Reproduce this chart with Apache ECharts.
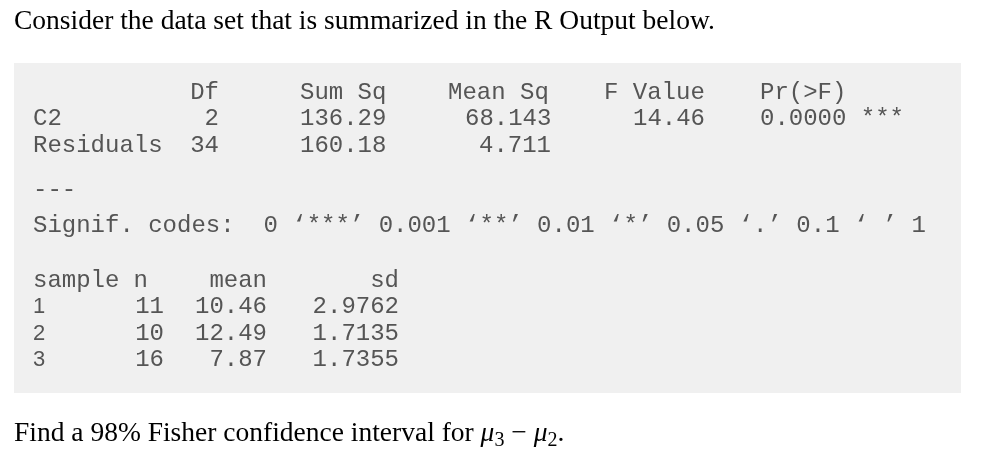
<!DOCTYPE html>
<html>
<head>
<meta charset="utf-8">
<script src="https://cdn.jsdelivr.net/npm/echarts@6/dist/echarts.min.js"></script>
<style>html,body{margin:0;background:#fff}#main{width:995px;height:465px}</style>
</head>
<body>
<div id="main"></div>
<script>
var anovaHeader = ['Df', 'Sum Sq', 'Mean Sq', 'F Value', 'Pr(>F)'];
var anovaRows = ['C2', 'Residuals'];
var anovaDf = ['2', '34'];
var anovaSumSq = ['136.29', '160.18'];
var anovaMeanSq = ['68.143', '4.711'];
var anovaF = ['14.46', ''];
var anovaP = ['0.0000 ***', ''];
var signifLine = 'Signif. codes:  0 \u2018***\u2019 0.001 \u2018**\u2019 0.01 \u2018*\u2019 0.05 \u2018.\u2019 0.1 \u2018 \u2019 1';
var sampleHeader = ['sample', 'n', 'mean', 'sd'];
var samples = ['1', '2', '3'];
var sampleN = ['11', '10', '16'];
var sampleMean = ['10.46', '12.49', '7.87'];
var sampleSd = ['2.9762', '1.7135', '1.7355'];

var chart = echarts.init(document.getElementById('main'));
var mono = 'Liberation Mono';
var gray = '#555';
var els = [];
function t(x, y, s, align, font, color, size) {
    els.push({
        type: 'text', x: x, y: y,
        style: {
            text: s, fill: color || gray, align: align || 'left', verticalAlign: 'middle',
            font: (size || 24) + 'px "' + (font || mono) + '"'
        }
    });
}
els.push({type: 'rect', shape: {x: 14, y: 63, width: 947, height: 330}, style: {fill: '#f0f0f0'}});
t(14, 22, 'Consider the data set that is summarized in the R Output below.', 'left', 'Liberation Serif', '#000', 27.5);

// anova header
t(219, 93, anovaHeader[0], 'right');
t(300, 93, anovaHeader[1]);
t(448, 93, anovaHeader[2]);
t(604, 93, anovaHeader[3]);
t(760, 93, anovaHeader[4]);
var rowY = [119, 146];
var meanX = [465, 479];
var fX = [633, 633];
for (var i = 0; i < anovaRows.length; i++) {
    t(33, rowY[i], anovaRows[i]);
    t(219, rowY[i], anovaDf[i], 'right');
    t(300, rowY[i], anovaSumSq[i]);
    t(meanX[i], rowY[i], anovaMeanSq[i]);
    t(fX[i], rowY[i], anovaF[i]);
    t(760, rowY[i], anovaP[i]);
}
t(33, 190, '---');
t(33, 226, signifLine);

// sample summary
t(33, 281, sampleHeader[0]);
t(148, 281, sampleHeader[1], 'right');
t(267, 281, sampleHeader[2], 'right');
t(399, 281, sampleHeader[3], 'right');
var sY = [307, 334, 360];
for (var j = 0; j < samples.length; j++) {
    t(33, sY[j], samples[j], 'left', 'Liberation Sans', gray, 22);
    t(164, sY[j], sampleN[j], 'right');
    t(267, sY[j], sampleMean[j], 'right');
    t(399, sY[j], sampleSd[j], 'right');
}

els.push({
    type: 'text', x: 14, y: 434,
    style: {
        text: 'Find a 98% Fisher confidence interval for {m|\u03bc}{s|3} \u2212 {m|\u03bc}{s|2}.',
        fill: '#000', verticalAlign: 'middle', font: '27.5px "Liberation Serif"',
        rich: {
            m: {font: 'italic 27.5px "Liberation Serif"', fill: '#000'},
            s: {font: '20px "Liberation Serif"', fill: '#000', padding: [14, 0, 0, 0]}
        }
    }
});

chart.setOption({backgroundColor: '#fff', graphic: els});
</script>
</body>
</html>
